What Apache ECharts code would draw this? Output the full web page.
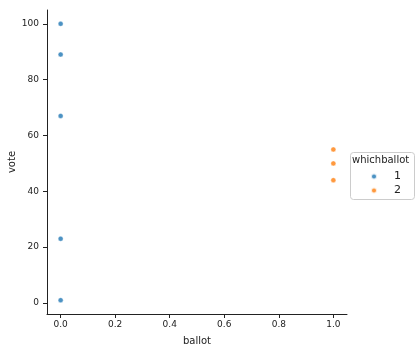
<!DOCTYPE html>
<html>
<head>
<meta charset="utf-8">
<script src="https://cdn.jsdelivr.net/npm/echarts@6/dist/echarts.min.js"></script>
<style>
  html, body { margin: 0; padding: 0; background: #fff; }
  #chart { width: 418px; height: 352px; }
</style>
</head>
<body>
<div id="chart"></div>
<script>
// ballot 1 and ballot 2 votes
var ballot1X = [0, 0, 0, 0, 0];
var ballot1Vote = [100, 89, 67, 23, 1];
var ballot2X = [1, 1, 1];
var ballot2Vote = [55, 50, 44];
var xTicks = [0, 0.2, 0.4, 0.6, 0.8, 1.0];
var yTicks = [0, 20, 40, 60, 80, 100];

function pairs(xs, ys) {
    return xs.map(function(x, i){ return [x, ys[i]]; });
}

var axisText = { color: '#222', fontSize: 10, fontFamily: 'DejaVu Sans' };
var chart = echarts.init(document.getElementById('chart'));
chart.setOption({
    animation: false,
    grid: { left: 47, top: 10, right: 71, bottom: 38, containLabel: false, outerBoundsMode: 'none' },
    graphic: [{
        type: 'rect',
        shape: { x: 350.5, y: 152.5, width: 64, height: 47, r: 3 },
        style: { fill: '#fff', stroke: '#ccc', lineWidth: 1 }
    }],
    title: {
        text: 'whichballot',
        left: 352, top: 155, padding: 0,
        textStyle: { fontSize: 10, fontWeight: 'normal', color: '#222', fontFamily: 'DejaVu Sans' }
    },
    legend: {
        orient: 'vertical',
        left: 370, top: 171,
        padding: 0,
        itemGap: 3,
        itemWidth: 6, itemHeight: 6,
        textStyle: { fontSize: 11, color: '#222', fontFamily: 'DejaVu Sans', padding: [0, 0, 0, 12] },
        data: [{ name: '1', icon: 'circle' }, { name: '2', icon: 'circle' }]
    },
    xAxis: {
        type: 'value',
        min: -0.05, max: 1.05,
        name: 'ballot', nameLocation: 'middle', nameGap: 22, nameMoveOverlap: false,
        nameTextStyle: axisText,
        axisLine: { onZero: false, lineStyle: { color: '#222', width: 1 } },
        axisTick: { show: true, length: 4, lineStyle: { color: '#222' }, customValues: xTicks },
        axisLabel: { customValues: xTicks, color: '#222', fontSize: 9, fontFamily: 'DejaVu Sans', margin: 6,
            formatter: function(v){ return v.toFixed(1); } },
        splitLine: { show: false }
    },
    yAxis: {
        type: 'value',
        min: -3.95, max: 104.95,
        name: 'vote', nameLocation: 'middle', nameGap: 30, nameMoveOverlap: false,
        nameTextStyle: axisText,
        axisLine: { show: true, onZero: false, lineStyle: { color: '#222', width: 1 } },
        axisTick: { show: true, length: 4, lineStyle: { color: '#222' }, customValues: yTicks },
        axisLabel: { customValues: yTicks, color: '#222', fontSize: 9, fontFamily: 'DejaVu Sans', margin: 8 },
        splitLine: { show: false }
    },
    series: [{
        name: '1', type: 'scatter',
        symbolSize: 5,
        itemStyle: { color: '#1f77b4', borderColor: '#fff', borderWidth: 0.5 },
        data: pairs(ballot1X, ballot1Vote)
    }, {
        name: '2', type: 'scatter',
        symbolSize: 5,
        itemStyle: { color: '#ff7f0e', borderColor: '#fff', borderWidth: 0.5 },
        data: pairs(ballot2X, ballot2Vote)
    }]
});
</script>
</body>
</html>
